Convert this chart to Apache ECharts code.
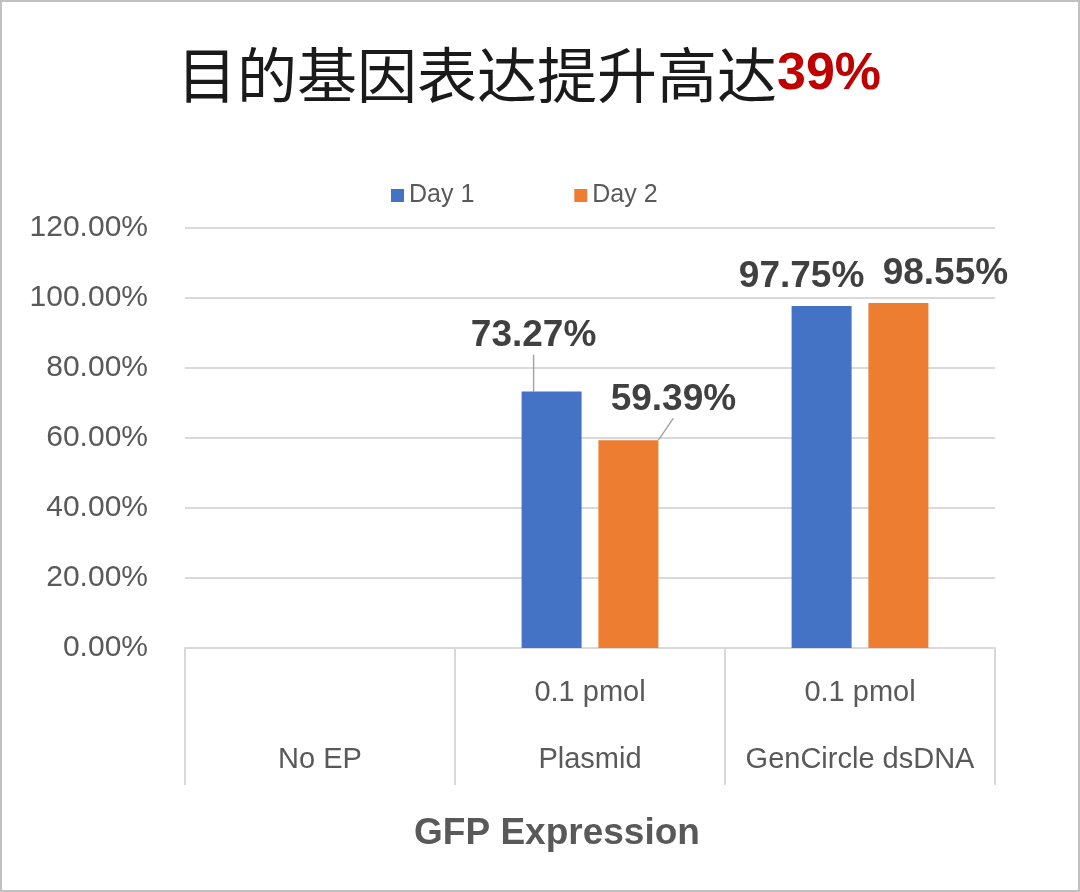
<!DOCTYPE html>
<html><head><meta charset="utf-8">
<script src="https://cdn.jsdelivr.net/npm/echarts@6/dist/echarts.min.js"></script>
<style>html,body{margin:0;padding:0;background:#fff}#c{width:1080px;height:892px}</style>
</head><body><div id="c"></div>
<script>
const categories = ['No EP', 'Plasmid', 'GenCircle dsDNA'];
const subLabels = ['', '0.1 pmol', '0.1 pmol'];
const day1 = [null, 73.27, 97.75];
const day2 = [null, 59.39, 98.55];
const seriesNames = ['Day 1', 'Day 2'];
const yTicks = [0, 20, 40, 60, 80, 100, 120];

const labelShift = {
  'Day 1': [[0,0],[-18,-32],[-20,-6]],
  'Day 2': [[0,0],[45,-17],[47,-6]]
};
const guideOn = {'Day 1':[false,true,false],'Day 2':[false,true,false]};

const chart = echarts.init(document.getElementById('c'));
const FONT = '"Liberation Sans", Arial, sans-serif';

function mkSeries(name, vals, color) {
  return {
    name: name, type: 'bar', barWidth: 60, barGap: '28%',
    itemStyle: {color: color},
    data: vals.map((v, i) => ({value: v, labelLine: {show: guideOn[name][i], lineStyle: {color: '#a6a6a6', width: 1.5}}})),
    label: {
      show: true, position: 'top', distance: 5,
      fontFamily: FONT, fontWeight: 'bold', fontSize: 37, color: '#404040',
      formatter: p => (p.value == null ? '' : p.value.toFixed(2) + '%')
    },
    labelLayout: p => ({dx: labelShift[name][p.dataIndex][0], dy: labelShift[name][p.dataIndex][1]})
  };
}

chart.setOption({
  animation: false,
  backgroundColor: '#fff',
  graphic: [{type: 'rect', shape: {x: 1, y: 1, width: 1078, height: 890}, style: {fill: 'none', stroke: '#c0c0c0', lineWidth: 2}, silent: true}],
  title: [{
    text: '{a|目的基因表达提升高达}{b|39%}',
    left: 172, top: 30,
    textStyle: {
      fontWeight: 'normal',
      rich: {
        a: {fontFamily: '"Noto Sans CJK SC", sans-serif', fontSize: 60, fontWeight: 'normal', color: '#1a1a1a', lineHeight: 80},
        b: {fontFamily: FONT, fontSize: 52, fontWeight: 'bold', color: '#c00000', lineHeight: 80}
      }
    }
  }, {
    text: 'GFP Expression', left: 552, top: 810, textAlign: 'center',
    textStyle: {fontFamily: FONT, fontSize: 37, fontWeight: 'bold', color: '#595959'}
  }],
  legend: {
    data: seriesNames, top: 178, itemWidth: 13, itemHeight: 13, itemGap: 100,
    icon: 'rect',
    textStyle: {fontFamily: FONT, fontSize: 25, color: '#595959'},
    left: 386
  },
  grid: {left: 185, right: 85, top: 228, bottom: 244},
  xAxis: {
    type: 'category', data: categories,
    axisLine: {show: true, lineStyle: {color: '#d9d9d9', width: 2}},
    axisTick: {show: true, length: 137, interval: 0, lineStyle: {color: '#d9d9d9', width: 2}},
    axisLabel: {
      interval: 0, margin: 28, fontFamily: FONT, fontSize: 29, color: '#595959', lineHeight: 33.5,
      formatter: (v, i) => (subLabels[i] || ' ') + '\n \n' + v
    }
  },
  yAxis: {
    type: 'value', min: 0, max: 120, interval: 20,
    axisLine: {show: false}, axisTick: {show: false},
    splitLine: {lineStyle: {color: '#d9d9d9', width: 2}},
    axisLabel: {margin: 37, fontFamily: FONT, fontSize: 30, color: '#595959',
      formatter: v => (yTicks.includes(v) ? v.toFixed(2) + '%' : '')}
  },
  series: [mkSeries('Day 1', day1, '#4472c4'), mkSeries('Day 2', day2, '#ed7d31')]
});
</script></body></html>
